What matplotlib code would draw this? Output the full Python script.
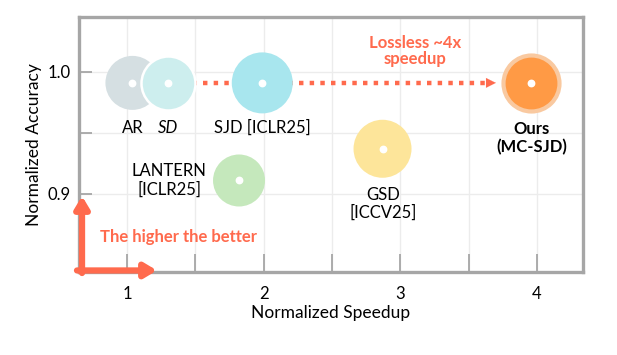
import matplotlib
matplotlib.use("Agg")
import matplotlib.pyplot as plt
import numpy as np

# ---- data ----
methods = ["AR", "SD", "SJD [ICLR25]", "LANTERN\n[ICLR25]", "GSD\n[ICCV25]", "Ours\n(MC-SJD)"]
speedup = [1.04, 1.30, 1.99, 1.82, 2.87, 3.96]
accuracy = [0.991, 0.991, 0.991, 0.911, 0.937, 0.991]
x_ticks = [1, 1.5, 2, 2.5, 3, 3.5, 4]
x_tick_labels = ["1", "", "2", "", "3", "", "4"]
y_ticks = [0.9, 0.95, 1.0]
y_tick_labels = ["0.9", "", "1.0"]

# ---- styles ----
colors = ["#d5dfe2", "#cdeeee", "#a8e6ee", "#c5e8bc", "#fde59a", "#ff9a45"]
radii_px = [27, 27, 30.5, 26, 29, 28]
edgecolors = ["none", "white", "none", "none", "none", "#f9c9a0"]
edgewidths = [0, 1.8, 0, 0, 0, 3.0]
ACC = "#ff6a4d"
GRAY = "#a6a6a6"

plt.rcParams['font.family'] = ['Lato', 'DejaVu Sans']

fig = plt.figure(figsize=(6.17, 3.55), dpi=100)
ax = fig.add_axes([79/617, 1-272/355, (583-79)/617, (272-17)/355])
ax.set_xlim(0.649, 4.337)
ax.set_ylim(0.836, 1.045)

ax.set_xticks(x_ticks)
ax.set_xticklabels(x_tick_labels, fontsize=12)
ax.set_yticks(y_ticks)
ax.set_yticklabels(y_tick_labels, fontsize=12)
ax.tick_params(axis='x', direction='in', length=13, width=1.3, color=GRAY, pad=10)
ax.tick_params(axis='y', direction='in', length=9, width=1.3, color=GRAY, pad=6)
ax.grid(True, color="#ececec", lw=1, zorder=0)
ax.set_axisbelow(True)
for s in ax.spines.values():
    s.set_color(GRAY)
    s.set_linewidth(2.4)

ax.set_xlabel("Normalized Speedup", fontsize=12.5, labelpad=2)
ax.set_ylabel("Normalized Accuracy", fontsize=12.5, labelpad=4)

# dotted arrow
y0 = accuracy[0]
x_end = speedup[5] - 0.24
ax.plot([speedup[0] + 0.05, x_end - 0.06], [y0, y0], color=ACC, lw=3.2,
        linestyle=(0, (1, 1.4)), zorder=2, solid_capstyle='butt', dash_capstyle='butt')
ax.annotate("", xy=(x_end, y0), xytext=(x_end - 0.1, y0),
            arrowprops=dict(arrowstyle='-|>,head_length=0.7,head_width=0.35', color=ACC, lw=0.1),
            zorder=2)

for i in range(len(methods)):
    s = (2 * radii_px[i] * 0.72) ** 2
    ax.scatter(speedup[i], accuracy[i], s=s, color=colors[i], edgecolors=edgecolors[i],
               linewidths=edgewidths[i], zorder=3 + i * 0.01)
    ax.scatter(speedup[i], accuracy[i], s=(2 * 3.2 * 0.72) ** 2, color="white", zorder=4)

# labels
fs = 12
ax.annotate("AR", (speedup[0], accuracy[0]), xytext=(0, -45), textcoords='offset pixels',
            ha='center', va='center', fontsize=fs)
ax.annotate("SD", (speedup[1], accuracy[1]), xytext=(0, -45), textcoords='offset pixels',
            ha='center', va='center', fontsize=fs, style='italic')
ax.annotate(methods[2], (speedup[2], accuracy[2]), xytext=(0, -45), textcoords='offset pixels',
            ha='center', va='center', fontsize=fs)
ax.annotate(methods[3], (speedup[3], accuracy[3]), xytext=(-70, 0), textcoords='offset pixels',
            ha='center', va='center', fontsize=fs, linespacing=1.15)
ax.annotate(methods[4], (speedup[4], accuracy[4]), xytext=(1, -55), textcoords='offset pixels',
            ha='center', va='center', fontsize=fs, linespacing=1.15)
ax.annotate(methods[5], (speedup[5], accuracy[5]), xytext=(0, -55), textcoords='offset pixels',
            ha='center', va='center', fontsize=fs, fontweight='bold', linespacing=1.15)

ax.text((415-79)/504, (272-51)/255, "Lossless ~4x\nspeedup", transform=ax.transAxes,
        ha='center', va='center', fontsize=12, fontweight='bold', color=ACC, linespacing=1.0)

# L-shaped arrow
ax.annotate("", xy=(0.006, (272-196)/255), xytext=(0.006, -0.004), xycoords='axes fraction',
            arrowprops=dict(arrowstyle='-|>,head_length=0.5,head_width=0.3', color=ACC, lw=4.5,
                            shrinkA=0, shrinkB=0, mutation_scale=14), annotation_clip=False)
ax.annotate("", xy=((157-79)/504, 0.006), xytext=(-0.004, 0.006), xycoords='axes fraction',
            arrowprops=dict(arrowstyle='-|>,head_length=0.5,head_width=0.3', color=ACC, lw=4.5,
                            shrinkA=0, shrinkB=0, mutation_scale=14), annotation_clip=False)
ax.text((178-79)/504, (272-237)/255, "The higher the better", transform=ax.transAxes,
        ha='center', va='center', fontsize=12, fontweight='bold', color=ACC)

fig.savefig("out.png", dpi=100)
